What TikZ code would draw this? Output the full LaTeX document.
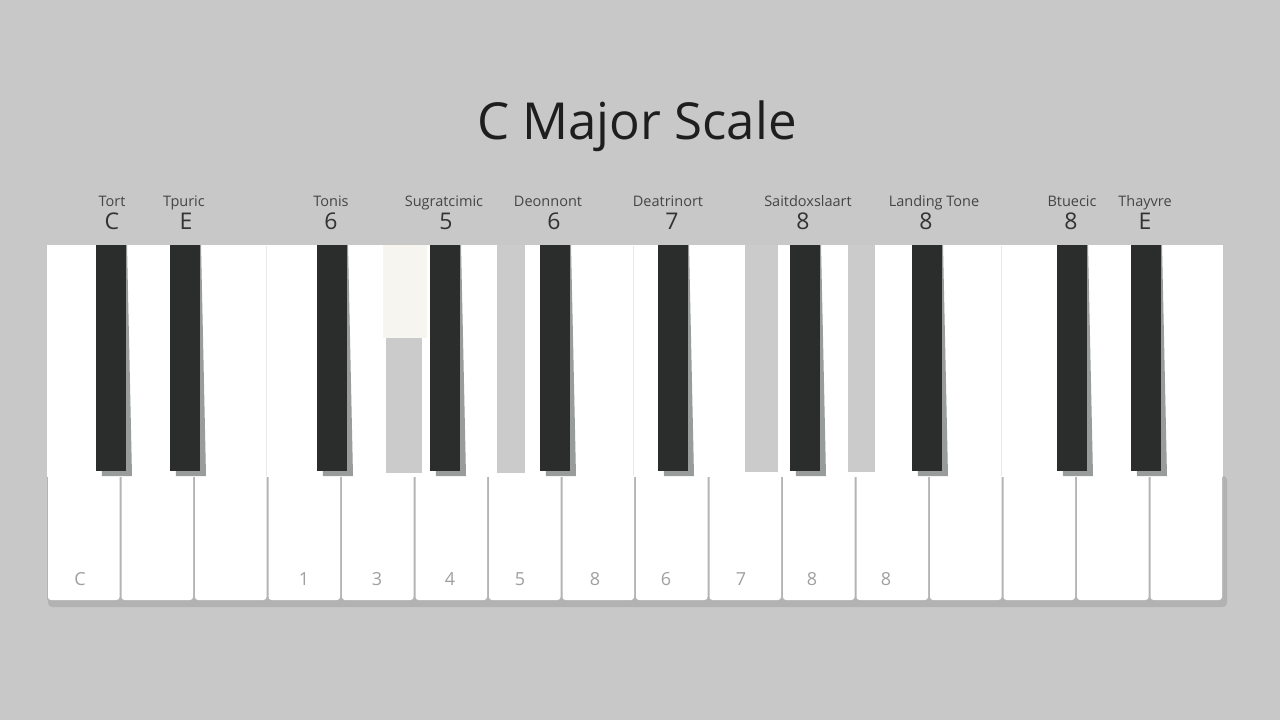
\documentclass[tikz,border=0pt]{standalone}
\usepackage{fontspec}
\setmainfont{Open Sans}
\definecolor{bg}{HTML}{C8C8C8}
\definecolor{keyblack}{HTML}{2A2D2C}
\definecolor{keyshadow}{HTML}{989C9A}
\definecolor{gapgray}{HTML}{B4B4B4}
\definecolor{blockgray}{HTML}{CBCBCB}
\definecolor{cream}{HTML}{F7F5EF}
\definecolor{titlecol}{HTML}{1E1E1E}
\definecolor{namecol}{HTML}{454545}
\definecolor{degcol}{HTML}{333333}
\definecolor{lowcol}{HTML}{A0A0A0}
\tikzset{
  whitekey/.style={fill=white, draw=none, rounded corners=3pt},
  blackkey/.style={fill=keyblack, draw=none},
  bkshadow/.style={fill=keyshadow, draw=none},
  grayblock/.style={fill=blockgray, draw=none},
  sepline/.style={draw=black!9, line width=1pt},
  titletext/.style={font=\fontsize{51}{56}\selectfont, text=titlecol, inner sep=0pt, anchor=base},
  nametext/.style={font=\fontsize{14.5}{16}\selectfont, text=namecol, inner sep=0pt, anchor=base},
  degtext/.style={font=\fontsize{23}{25}\selectfont, text=degcol, inner sep=0pt, anchor=base},
  lowtext/.style={font=\fontsize{18}{20}\selectfont, text=lowcol, inner sep=0pt, anchor=base}
}
\begin{document}
\begin{tikzpicture}[x=1pt,y=-1pt]
\useasboundingbox (0,0) rectangle (1280,720);
\fill[bg] (0,0) rectangle (1280,720);
% title
\node[titletext] (title) at (637,139) {C Major Scale};
% shadow under keyboard
\fill[black!30, rounded corners=4pt] (48,476) rectangle (1227,607);
\fill[gapgray] (47,476) rectangle (1224,600);
% upper white area
\fill[white] (47,245) rectangle (1223,477);
% lower white keys
\foreach \i in {0,...,15} {
  \pgfmathsetmacro{\xa}{47+73.5*\i+1}
  \pgfmathsetmacro{\xb}{47+73.5*(\i+1)-1}
  \fill[whitekey] (\xa,455) rectangle (\xb,600);
}
% faint separators in the upper part
\foreach \sx in {266,633,1001} {
  \draw[sepline] (\sx,246) -- (\sx,476);
}
% cream and gray blocks
\fill[cream] (383,245) rectangle (427,338);
\fill[grayblock] (386,338) rectangle (422,473);
\fill[grayblock] (497,245) rectangle (525,473);
\fill[grayblock] (745,245) rectangle (778,472);
\fill[grayblock] (848,245) rectangle (875,472);
% black keys with shadows
\foreach \bx in {96,170,317,430,540,658,790,912,1057,1131} {
  \fill[bkshadow] (\bx+4,245) -- (\bx+31,245) -- (\bx+36,476) -- (\bx+6,476) -- cycle;
  \fill[blackkey] (\bx,245) rectangle (\bx+30,471);
}
% degree names and numbers
\node[nametext] (n1) at (112,206) {Tort};
\node[degtext] (d1) at (112,229) {C};
\node[nametext] (n2) at (184,206) {Tpuric};
\node[degtext] (d2) at (186,229) {E};
\node[nametext] (n3) at (331,206) {Tonis};
\node[degtext] (d3) at (331,229) {6};
\node[nametext] (n4) at (444,206) {Sugratcimic};
\node[degtext] (d4) at (446,229) {5};
\node[nametext] (n5) at (548,206) {Deonnont};
\node[degtext] (d5) at (554,229) {6};
\node[nametext] (n6) at (668,206) {Deatrinort};
\node[degtext] (d6) at (672,229) {7};
\node[nametext] (n7) at (808,206) {Saitdoxslaart};
\node[degtext] (d7) at (803,229) {8};
\node[nametext] (n8) at (934,206) {Landing Tone};
\node[degtext] (d8) at (926,229) {8};
\node[nametext] (n9) at (1072,206) {Btuecic};
\node[degtext] (d9) at (1071,229) {8};
\node[nametext] (n10) at (1145,206) {Thayvre};
\node[degtext] (d10) at (1145,229) {E};
% lower key labels
\node[lowtext] (l1) at (80,585) {C};
\node[lowtext] (l2) at (304,585) {1};
\node[lowtext] (l3) at (377,585) {3};
\node[lowtext] (l4) at (450,585) {4};
\node[lowtext] (l5) at (520,585) {5};
\node[lowtext] (l6) at (595,585) {8};
\node[lowtext] (l7) at (666,585) {6};
\node[lowtext] (l8) at (741,585) {7};
\node[lowtext] (l9) at (812,585) {8};
\node[lowtext] (l10) at (886,585) {8};
\end{tikzpicture}
\end{document}
